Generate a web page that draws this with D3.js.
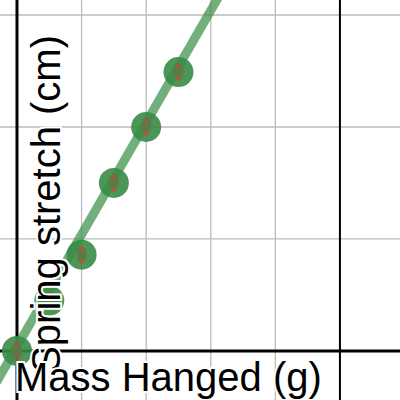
<!DOCTYPE html>
<html><head><meta charset="utf-8">
<script src="https://cdn.jsdelivr.net/npm/d3@7"></script>
<style>body{margin:0;background:#fff}</style>
</head><body><div id="chart"></div>
<script>
var massX = [0, 0.5, 1, 1.5, 2, 2.5];
var stretchY = [0, 0.45, 0.86, 1.5, 2.0, 2.49];
var fitLine = [{x: -0.5, y: -0.46}, {x: 3.5, y: 3.54}];
var xGrid = [1, 2, 3, 4, 5];
var yGrid = [1, 2, 3];

var width = 400, height = 400;
var x = d3.scaleLinear().domain([-0.263, 5.93]).range([0, width]);
var y = d3.scaleLinear().domain([-0.438, 3.134]).range([height, 0]);

var svg = d3.select("#chart").append("svg")
    .attr("width", width).attr("height", height);

// grid
svg.selectAll(".vg").data(xGrid).enter().append("line")
    .attr("x1", d => x(d)).attr("x2", d => x(d))
    .attr("y1", 0).attr("y2", height)
    .attr("stroke", "#bbb").attr("stroke-width", 1.3);
svg.selectAll(".hg").data(yGrid).enter().append("line")
    .attr("x1", 0).attr("x2", width)
    .attr("y1", d => y(d)).attr("y2", d => y(d))
    .attr("stroke", "#bbb").attr("stroke-width", 1.3);

// axes
svg.append("line").attr("x1", x(0)).attr("x2", x(0)).attr("y1", 0).attr("y2", height)
    .attr("stroke", "#000").attr("stroke-width", 3);
svg.append("line").attr("x1", 0).attr("x2", width).attr("y1", y(0)).attr("y2", y(0))
    .attr("stroke", "#000").attr("stroke-width", 3);
svg.append("line").attr("x1", x(5)).attr("x2", x(5)).attr("y1", 0).attr("y2", height)
    .attr("stroke", "#000").attr("stroke-width", 2);

// fit line
var valueLine = d3.line().x(d => x(d.x)).y(d => y(d.y));
svg.append("path").datum(fitLine).attr("d", valueLine)
    .attr("fill", "none").attr("stroke", "#388c46").attr("stroke-opacity", 0.7)
    .attr("stroke-width", 9);

// points
var pts = massX.map((m, i) => ({x: m, y: stretchY[i]}));
svg.selectAll(".pt").data(pts).enter().append("circle")
    .attr("cx", d => x(d.x)).attr("cy", d => y(d.y)).attr("r", 15)
    .attr("fill", "#388c46").attr("fill-opacity", 0.9);
svg.selectAll(".err").data(pts).enter().append("ellipse")
    .attr("cx", d => x(d.x)).attr("cy", d => y(d.y)).attr("rx", 4.5).attr("ry", 9)
    .attr("fill", "#c74440").attr("fill-opacity", 0.7);
svg.selectAll(".pt2").data(pts).enter().append("rect")
    .attr("x", d => x(d.x) - 5).attr("y", d => y(d.y) - 5).attr("width", 10).attr("height", 10)
    .attr("fill", "#388c46").attr("fill-opacity", 0.6);

// labels
svg.append("text")
    .attr("transform", "translate(60,35) rotate(-90)")
    .attr("text-anchor", "end")
    .attr("font-family", "Liberation Sans, Arial, sans-serif")
    .attr("font-size", 40)
    .attr("stroke", "#fff").attr("stroke-width", 4).attr("paint-order", "stroke")
    .text("Spring stretch (cm)");
svg.append("text")
    .attr("x", 15).attr("y", 391)
    .attr("font-family", "Liberation Sans, Arial, sans-serif")
    .attr("font-size", 40)
    .attr("stroke", "#fff").attr("stroke-width", 4).attr("paint-order", "stroke")
    .text("Mass Hanged (g)");
</script>
</body></html>
